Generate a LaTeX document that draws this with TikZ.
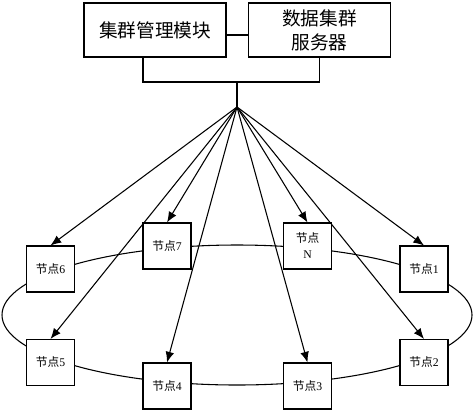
\documentclass[tikz,border=0pt]{standalone}
\usepackage{fontspec}
\setmainfont{Liberation Serif}
\newfontfamily\cjk{Noto Sans CJK SC}
\usetikzlibrary{arrows.meta}

\begin{document}
\begin{tikzpicture}[x=0.75pt, y=-0.75pt, line width=0.8pt,
    topbox/.style={draw, fill=white, minimum width=106.5pt, minimum height=40.5pt, align=center, font={\cjk\fontsize{14}{18}\selectfont}},
    nodebox/.style={draw, fill=white, minimum width=36pt, minimum height=34.5pt, inner sep=1pt, align=center, font={\fontsize{8.8}{12}\selectfont}},
    arr/.style={-{Latex[length=8pt,width=6.5pt]}}]
    \useasboundingbox (0,0) rectangle (474,412);
    \node[topbox] (mgr) at (155,30) {集群管理模块};
    \node[topbox] (srv) at (319.5,30) {数据集群\\服务器};
    \draw ([yshift=-3.75pt]mgr.east) -- ([yshift=-3.75pt]srv.west);
    \coordinate (hub) at (237,82);
    \coordinate (fan) at (237,107);
    \draw ([xshift=-9pt]mgr.south) |- (hub) -| (srv.south);
    \draw (hub) -- (fan);
    % ring of nodes
    \draw (237,315) ellipse [x radius=235, y radius=70];
    \node[nodebox] (n7) at (167,246) {{\cjk 节点}7};
    \node[nodebox] (nN) at (307.5,246) {{\cjk 节点}\\N};
    \node[nodebox] (n6) at (50.5,269) {{\cjk 节点}6};
    \node[nodebox] (n1) at (424,269) {{\cjk 节点}1};
    \node[nodebox] (n5) at (50.5,362.5) {{\cjk 节点}5};
    \node[nodebox] (n2) at (424,362.5) {{\cjk 节点}2};
    \node[nodebox] (n4) at (167,386) {{\cjk 节点}4};
    \node[nodebox] (n3) at (307.5,386) {{\cjk 节点}3};
    \foreach \n in {n6,n7,nN,n1,n5,n4,n3,n2}
      \draw[arr] (fan) -- (\n.north);
\end{tikzpicture}
\end{document}
